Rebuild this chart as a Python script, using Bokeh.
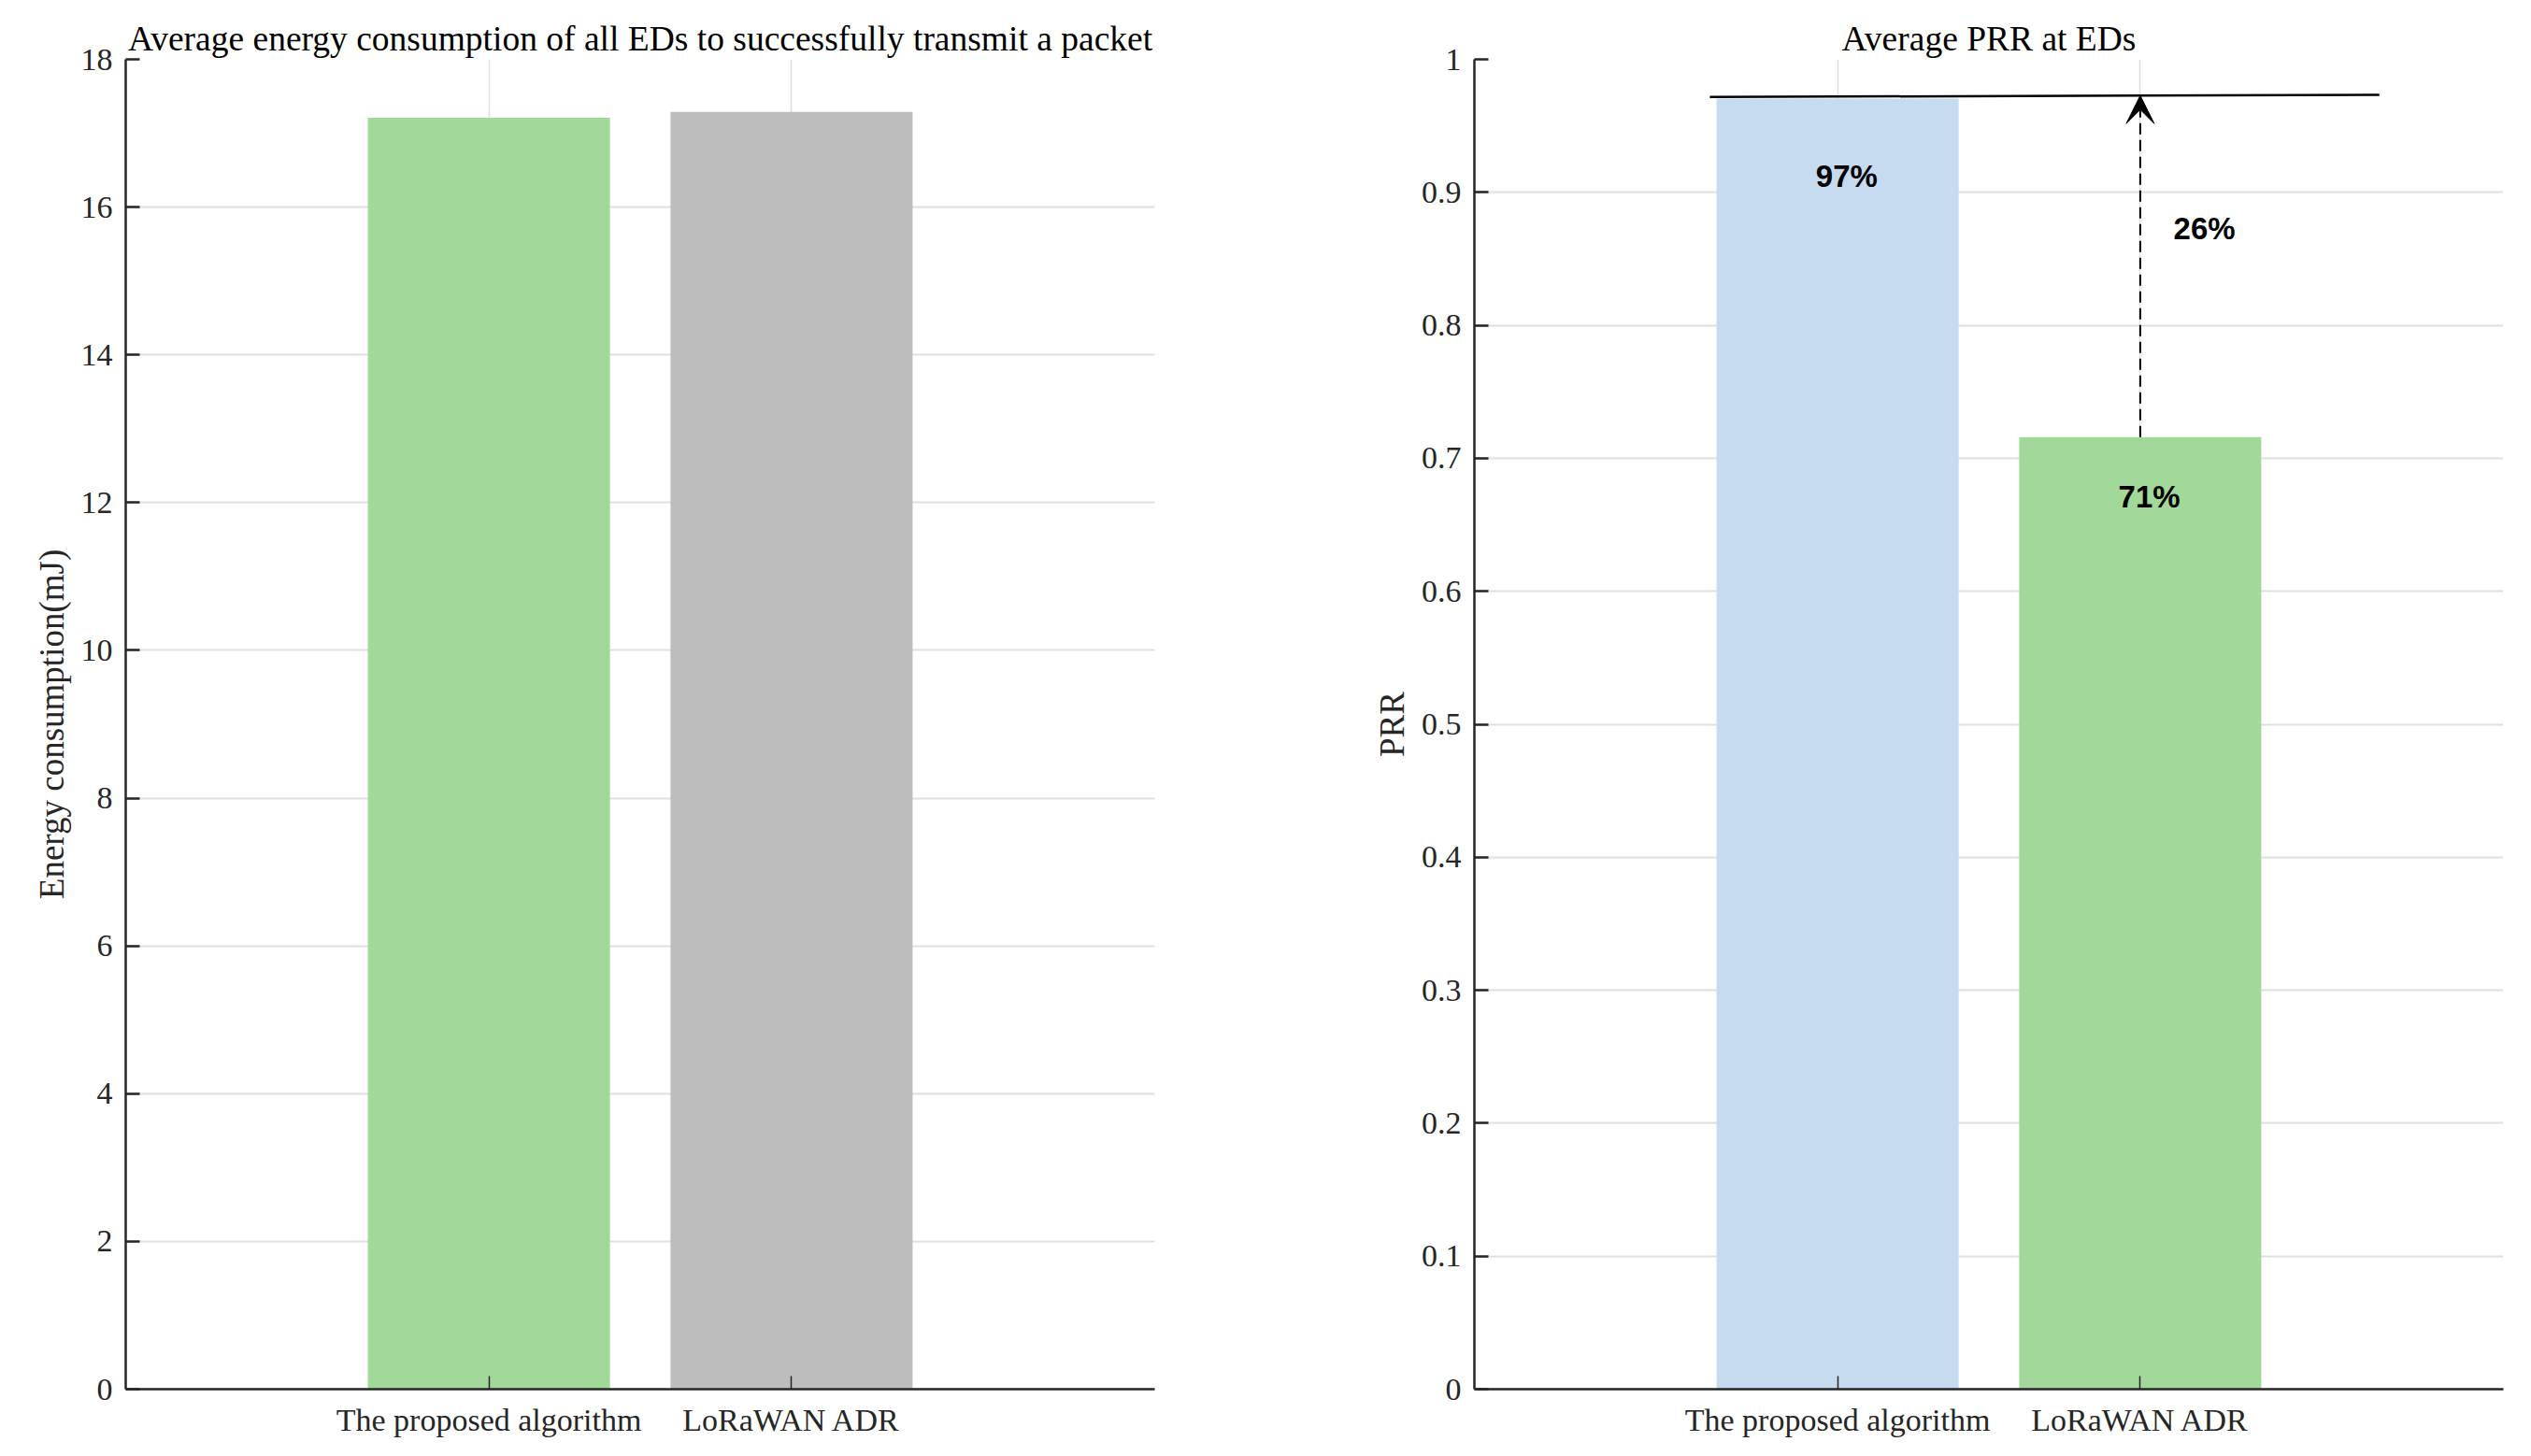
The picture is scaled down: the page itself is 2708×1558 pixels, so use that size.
from bokeh.plotting import figure
from bokeh.layouts import row
from bokeh.models import FixedTicker, Range1d, Arrow, VeeHead
from bokeh.core.properties import value
from bokeh.embed import file_html
from bokeh.resources import INLINE

# data
categories = ["The proposed algorithm", "LoRaWAN ADR"]
positions = [1, 2]

energy = [17.21, 17.29]
energy_colors = ["#a2d99b", "#bdbdbd"]
energy_ticks = [0, 2, 4, 6, 8, 10, 12, 14, 16, 18]

prr = [0.9705, 0.716]
prr_colors = ["#c6dbef", "#a2d99b"]
prr_labels = ["97%", "71%"]
prr_label_y = [0.912, 0.671]
prr_ticks = [0, 0.1, 0.2, 0.3, 0.4, 0.5, 0.6, 0.7, 0.8, 0.9, 1]
prr_tick_labels = ["0", "0.1", "0.2", "0.3", "0.4", "0.5", "0.6", "0.7", "0.8", "0.9", "1"]

# reference line drawn at the top bar level and the gain between bars
ref_line_x = [0.578, 2.79]
ref_line_y = [0.9717, 0.9733]
gain_label = "26%"
gain_label_y = 0.873

SERIF = "Liberation Serif"
SANS = "Liberation Sans"
AXIS_COLOR = "#262626"
GRID_COLOR = "#dfdfdf"


def make_figure(title, ylabel, ymax, yticks, border_left, border_right):
    p = figure(frame_width=1101, frame_height=1423,
               x_range=Range1d(-0.2, 3.2), y_range=Range1d(0, ymax),
               min_border_left=border_left, min_border_right=border_right,
               min_border_top=63, min_border_bottom=56,
               output_backend="svg", toolbar_location=None, title=title)
    p.outline_line_color = None
    p.background_fill_color = "white"

    p.title.text_font = SERIF
    p.title.text_font_size = "37.5px"
    p.title.text_font_style = "normal"
    p.title.align = "center"
    p.title.text_color = "black"
    p.title.standoff = 4

    for ax in (p.xaxis, p.yaxis):
        ax.axis_line_color = AXIS_COLOR
        ax.axis_line_width = 2.5
        ax.major_tick_line_color = AXIS_COLOR
        ax.major_tick_out = 0
        ax.minor_tick_line_color = None
        ax.major_label_text_font = SERIF
        ax.major_label_text_font_size = "34px"
        ax.major_label_text_color = AXIS_COLOR
        ax.axis_label_text_font = SERIF
        ax.axis_label_text_font_size = "37px"
        ax.axis_label_text_font_style = "normal"
        ax.axis_label_text_color = AXIS_COLOR

    p.xaxis.ticker = FixedTicker(ticks=positions)
    p.xaxis.major_label_overrides = {pos: c for pos, c in zip(positions, categories)}
    p.xaxis.major_tick_in = 14
    p.xaxis.major_tick_line_width = 1.5
    p.xaxis.major_label_standoff = 14

    p.yaxis.ticker = FixedTicker(ticks=yticks)
    p.yaxis.major_tick_in = 15
    p.yaxis.major_tick_line_width = 2.5
    p.yaxis.major_label_standoff = 14
    p.yaxis.axis_label = ylabel
    p.yaxis.axis_label_standoff = 8

    p.ygrid.grid_line_color = GRID_COLOR
    p.ygrid.grid_line_width = 2
    p.xgrid.grid_line_color = GRID_COLOR
    p.xgrid.grid_line_width = 1.5
    return p


# left: energy consumption
p1 = make_figure("Average energy consumption of all EDs to successfully transmit a packet",
                 "Energy consumption(mJ)", 18, energy_ticks, 134, 170)
p1.vbar(x=positions, top=energy, width=0.8, color=energy_colors, line_color=None)

# right: PRR
p2 = make_figure("Average PRR at EDs", "PRR", 1, prr_ticks, 172, 10)
p2.yaxis.major_label_overrides = {t: s for t, s in zip(prr_ticks, prr_tick_labels)}
p2.vbar(x=positions, top=prr, width=0.8, color=prr_colors, line_color=None)

p2.line(ref_line_x, ref_line_y, line_color="black", line_width=2.5)

slope = (ref_line_y[1] - ref_line_y[0]) / (ref_line_x[1] - ref_line_x[0])
top_at_2 = ref_line_y[0] + slope * (positions[1] - ref_line_x[0])
p2.add_layout(Arrow(end=VeeHead(size=30, fill_color="black", line_color="black"),
                    x_start=positions[1], y_start=prr[1],
                    x_end=positions[1], y_end=top_at_2,
                    line_color="black", line_width=2, line_dash="12 6"))

p2.text(x=[x + 0.03 for x in positions], y=prr_label_y, text=prr_labels,
        text_font=value(SANS), text_font_size="33px", text_font_style="bold",
        text_align="center", text_baseline="middle", text_color="black")
p2.text(x=[positions[1] + 0.212], y=[gain_label_y], text=[gain_label],
        text_font=value(SANS), text_font_size="33px", text_font_style="bold",
        text_align="center", text_baseline="middle", text_color="black")

layout = row(p1, p2)
open("out.html", "w").write(file_html(layout, INLINE))
